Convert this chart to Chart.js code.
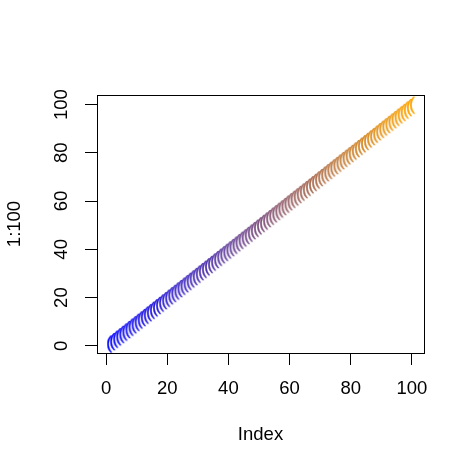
<!DOCTYPE html>
<html>
<head>
<meta charset="utf-8">
<style>
  html, body { margin: 0; padding: 0; background: #fff; }
  #wrap { width: 474px; height: 474px; }
</style>
<script src="https://cdn.jsdelivr.net/npm/chart.js@4/dist/chart.umd.min.js"></script>
</head>
<body>
<div id="wrap"><canvas id="myChart" width="474" height="474"></canvas></div>
<script>
const xIndex = [1, 2, 3, 4, 5, 6, 7, 8, 9, 10, 11, 12, 13, 14, 15, 16, 17, 18, 19, 20,
    21, 22, 23, 24, 25, 26, 27, 28, 29, 30, 31, 32, 33, 34, 35, 36, 37, 38, 39, 40,
    41, 42, 43, 44, 45, 46, 47, 48, 49, 50, 51, 52, 53, 54, 55, 56, 57, 58, 59, 60,
    61, 62, 63, 64, 65, 66, 67, 68, 69, 70, 71, 72, 73, 74, 75, 76, 77, 78, 79, 80,
    81, 82, 83, 84, 85, 86, 87, 88, 89, 90, 91, 92, 93, 94, 95, 96, 97, 98, 99, 100];
const yValues = [1, 2, 3, 4, 5, 6, 7, 8, 9, 10, 11, 12, 13, 14, 15, 16, 17, 18, 19, 20,
    21, 22, 23, 24, 25, 26, 27, 28, 29, 30, 31, 32, 33, 34, 35, 36, 37, 38, 39, 40,
    41, 42, 43, 44, 45, 46, 47, 48, 49, 50, 51, 52, 53, 54, 55, 56, 57, 58, 59, 60,
    61, 62, 63, 64, 65, 66, 67, 68, 69, 70, 71, 72, 73, 74, 75, 76, 77, 78, 79, 80,
    81, 82, 83, 84, 85, 86, 87, 88, 89, 90, 91, 92, 93, 94, 95, 96, 97, 98, 99, 100];
const xTicks = [0, 20, 40, 60, 80, 100];
const yTicks = [0, 20, 40, 60, 80, 100];
const xTitle = 'Index';
const yTitle = '1:100';
const markChar = '(';

const FONT = '"Liberation Sans", Arial, Helvetica, sans-serif';
const FSIZE = 18.5;

// blue -> orange ramp, one colour per point
const n = yValues.length;
const colors = [];
for (let i = 0; i < n; i++) {
    const t = i / (n - 1);
    colors.push('rgb(' + Math.round(255 * t) + ',' + Math.round(165 * t) + ',' + Math.round(255 * (1 - t)) + ')');
}

// "(" glyph as point image, glyph box centred on the point
const marks = colors.map(c => {
    const cv = document.createElement('canvas');
    cv.width = 14;
    cv.height = 26;
    const g = cv.getContext('2d');
    g.fillStyle = c;
    g.strokeStyle = c;
    g.lineWidth = 0.25;
    g.font = FSIZE + 'px ' + FONT;
    g.textAlign = 'center';
    g.textBaseline = 'alphabetic';
    const by = 13 + 0.26 * FSIZE;
    g.fillText(markChar, 7, by);
    g.strokeText(markChar, 7, by);
    return cv;
});

const points = xIndex.map((x, i) => ({ x: x, y: yValues[i] }));

const pad = (Math.max(...xIndex) - Math.min(...xIndex)) * 0.04;
const xMin = Math.min(...xIndex) - pad, xMax = Math.max(...xIndex) + pad;
const yMin = Math.min(...yValues) - pad, yMax = Math.max(...yValues) + pad;

const rBox = {
    id: 'rBox',
    afterDraw(chart) {
        const ctx = chart.ctx;
        const a = chart.chartArea;
        ctx.save();
        ctx.strokeStyle = '#000';
        ctx.lineWidth = 1;
        ctx.strokeRect(Math.round(a.left) + 0.5, Math.round(a.top) + 0.5,
            Math.round(a.right - a.left), Math.round(a.bottom - a.top));

        // rotated y tick labels, R style
        const ys = chart.scales.y;
        ctx.fillStyle = '#000';
        ctx.font = FSIZE + 'px ' + FONT;
        ctx.textAlign = 'center';
        ctx.textBaseline = 'middle';
        yTicks.forEach(v => {
            ctx.save();
            ctx.translate(62, ys.getPixelForValue(v));
            ctx.rotate(-Math.PI / 2);
            ctx.fillText(String(v), 0, 0);
            ctx.restore();
        });
        ctx.restore();
    }
};

const ctx = document.getElementById('myChart');
new Chart(ctx, {
    type: 'scatter',
    data: {
        datasets: [{
            data: points,
            pointStyle: marks,
            pointRadius: 5,
            clip: false
        }]
    },
    options: {
        responsive: false,
        animation: false,
        layout: { padding: { top: 95, right: 50, left: 0, bottom: 0 } },
        plugins: { legend: { display: false }, tooltip: { enabled: false } },
        scales: {
            x: {
                type: 'linear',
                min: xMin,
                max: xMax,
                afterBuildTicks: s => { s.ticks = xTicks.map(v => ({ value: v })); },
                afterFit: s => { s.height = 121; },
                grid: { drawOnChartArea: false, drawTicks: true, tickLength: 12, color: '#000', lineWidth: 1 },
                border: { display: false },
                ticks: { color: '#000', padding: 13, maxRotation: 0, font: { family: FONT, size: FSIZE } },
                title: { display: true, text: xTitle, color: '#000', padding: 28, font: { family: FONT, size: FSIZE } }
            },
            y: {
                type: 'linear',
                min: yMin,
                max: yMax,
                afterBuildTicks: s => { s.ticks = yTicks.map(v => ({ value: v })); },
                afterFit: s => { s.width = 97; },
                grid: { drawOnChartArea: false, drawTicks: true, tickLength: 12, color: '#000', lineWidth: 1 },
                border: { display: false },
                ticks: { color: 'rgba(0,0,0,0)', font: { family: FONT, size: FSIZE } },
                title: { display: true, text: yTitle, color: '#000', padding: 4, font: { family: FONT, size: FSIZE } }
            }
        }
    },
    plugins: [rBox]
});
</script>
</body>
</html>
